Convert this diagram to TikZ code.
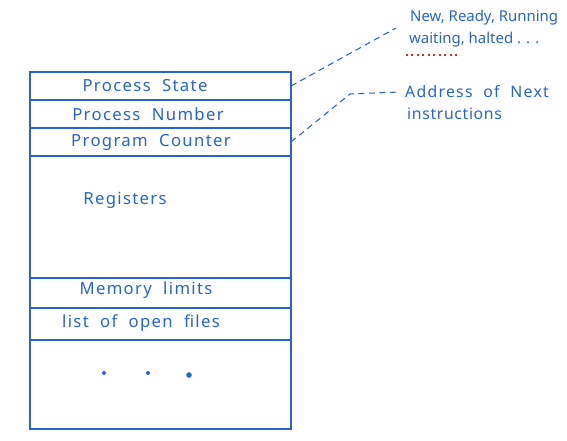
\documentclass[tikz,border=0pt]{standalone}
\usepackage{fontspec}
\setmainfont{Noto Sans}
\definecolor{penblue}{RGB}{40,100,208}
\definecolor{spellred}{RGB}{220,40,40}

\begin{document}
\begin{tikzpicture}[x=0.02cm,y=-0.02cm,
  row/.style={draw=penblue,line width=0.8pt},
  pen/.style={text=penblue,font=\fontsize{9.5}{11}\selectfont\addfontfeatures{LetterSpace=8}},
  note/.style={text=penblue,anchor=west,font=\fontsize{8.5}{10}\selectfont},
  link/.style={penblue,line width=0.6pt,dash pattern=on 3.5pt off 2.5pt}]
\useasboundingbox (0,0) rectangle (567,440);
% the block
\draw[row] (30,72) rectangle (291,429);
\foreach \y in {100,128,156,278,308,340}
  \draw[row] (30,\y) -- (291,\y);
\node[pen] (state) at (145,86) {Process\ \ State};
\node[pen] (number) at (148,114) {Process\ \ Number};
\node[pen] (counter) at (151,142) {Program\ \ Counter};
\node[pen] (regs) at (125,200) {Registers};
\node[pen] (limits) at (146,290) {Memory\ \ limits};
\node[pen] (files) at (141,323) {list\ \ of\ \ open\ \ files};
\fill[penblue] (104,373) circle (2);
\fill[penblue] (148,373) circle (2);
\fill[penblue] (189,375) circle (2.8);
% side notes
\node[note] (states) at (404,18) {New, Ready, Running};
\node[note] (halted) at (403,40) {waiting, halted . . .};
\draw[spellred,line width=1.1pt,dotted] (406,55) -- (458,55);
\node[note,font=\fontsize{9}{10}\selectfont\addfontfeatures{LetterSpace=8}] (addr) at (399,92) {Address\ \ of\ \ Next};
\node[note,font=\fontsize{9}{10}\selectfont\addfontfeatures{LetterSpace=4}] (instr) at (401,114) {instructions};
\coordinate (stateR) at (291,86);
\coordinate (counterR) at (291,142);
\coordinate (top) at (396,28);
\coordinate (bend) at (350,94);
\draw[link] (stateR) -- (top);
\draw[link] (counterR) -- (bend) -- (addr.west);
\end{tikzpicture}
\end{document}
